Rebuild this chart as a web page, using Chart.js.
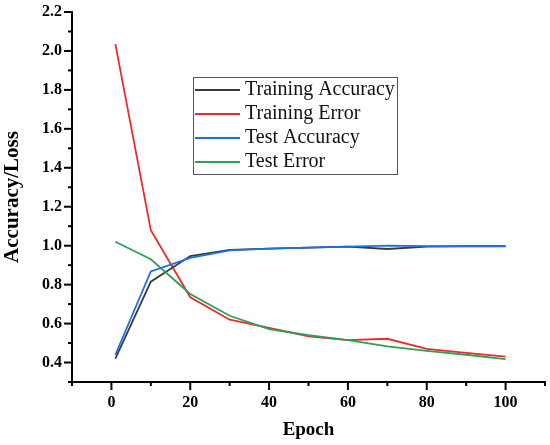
<!DOCTYPE html>
<html><head><meta charset="utf-8">
<script src="https://cdn.jsdelivr.net/npm/chart.js@4/dist/chart.umd.min.js"></script>
<style>html,body{margin:0;padding:0;background:#fff}</style>
</head><body>
<canvas id="c" width="550" height="445"></canvas>
<script>
const epochs = [1, 10, 20, 30, 40, 50, 60, 70, 80, 90, 100];
const trainAcc = [0.42, 0.815, 0.947, 0.978, 0.985, 0.99, 0.995, 0.983, 0.995, 0.997, 0.997];
const trainErr = [2.035, 1.08, 0.735, 0.62, 0.578, 0.535, 0.515, 0.522, 0.47, 0.45, 0.43];
const testAcc = [0.44, 0.868, 0.937, 0.976, 0.985, 0.99, 0.995, 1.0, 0.998, 0.998, 0.998];
const testErr = [1.02, 0.93, 0.752, 0.64, 0.572, 0.54, 0.515, 0.483, 0.46, 0.44, 0.417];
const seriesLabels = ['Training Accuracy', 'Training Error', 'Test Accuracy', 'Test Error'];
const xTickLabels = ['0', '20', '40', '60', '80', '100'];
const yTickLabels = ['0.4', '0.6', '0.8', '1.0', '1.2', '1.4', '1.6', '1.8', '2.0', '2.2'];

const colors = ['#3a3a3a', '#ee2b2b', '#1f6fe0', '#2e9e5a'];
const SERIF = '"Liberation Serif", "Times New Roman", serif';

function pts(arr) { return epochs.map((e, i) => ({x: e, y: arr[i]})); }

const tickMarks = {
  id: 'tickMarks',
  afterDraw(chart) {
    const ctx = chart.ctx;
    const xs = chart.scales.x, ys = chart.scales.y;
    ctx.save();
    ctx.strokeStyle = '#000';
    ctx.lineWidth = 2;
    xs.ticks.forEach(t => {
      const px = xs.getPixelForValue(t.value);
      const len = t.label ? 8 : 4;
      ctx.beginPath(); ctx.moveTo(px, xs.top); ctx.lineTo(px, xs.top + len); ctx.stroke();
    });
    ys.ticks.forEach(t => {
      const py = ys.getPixelForValue(t.value);
      const len = t.label ? 8 : 4;
      ctx.beginPath(); ctx.moveTo(ys.right, py); ctx.lineTo(ys.right - len, py); ctx.stroke();
    });
    ctx.restore();
  }
};

const boxLegend = {
  id: 'boxLegend',
  afterDraw(chart) {
    const ctx = chart.ctx;
    const ca = chart.chartArea;
    const left = ca.left + 121, top = ca.top + 65, w = 204, h = 97;
    ctx.save();
    ctx.fillStyle = '#fff';
    ctx.fillRect(left, top, w, h);
    ctx.strokeStyle = '#555';
    ctx.lineWidth = 1;
    ctx.strokeRect(left + 0.5, top + 0.5, w, h);
    ctx.font = '20px ' + SERIF;
    ctx.textBaseline = 'middle';
    ctx.fillStyle = '#111';
    seriesLabels.forEach((lab, i) => {
      const ds = chart.data.datasets.find(d => d.label === lab);
      const y = top + 13 + i * 24;
      ctx.strokeStyle = ds.borderColor;
      ctx.lineWidth = 2;
      ctx.beginPath(); ctx.moveTo(left + 2, y); ctx.lineTo(left + 47, y); ctx.stroke();
      ctx.fillText(lab, left + 52, y);
    });
    ctx.restore();
  }
};

new Chart(document.getElementById('c'), {
  type: 'line',
  data: {
    datasets: [
      {label: seriesLabels[0], data: pts(trainAcc), borderColor: colors[0], order: 2},
      {label: seriesLabels[1], data: pts(trainErr), borderColor: colors[1], order: 3},
      {label: seriesLabels[2], data: pts(testAcc), borderColor: colors[2], order: 0},
      {label: seriesLabels[3], data: pts(testErr), borderColor: colors[3], order: 1}
    ]
  },
  options: {
    responsive: false,
    animation: false,
    devicePixelRatio: 1,
    layout: {padding: {top: 12, right: 5, left: 0, bottom: 0}},
    elements: {
      line: {borderWidth: 1.8, tension: 0, fill: false},
      point: {radius: 0, hoverRadius: 0}
    },
    plugins: {legend: {display: false}, tooltip: {enabled: false}},
    scales: {
      x: {
        type: 'linear', min: -10, max: 110,
        afterFit: s => { s.height = 63; s.paddingLeft = 0; s.paddingRight = 0; },
        grid: {display: true, drawOnChartArea: false, drawTicks: false},
        border: {display: true, color: '#000', width: 2},
        ticks: {
          stepSize: 10, autoSkip: false, maxRotation: 0, padding: 11,
          color: '#000', font: {family: SERIF, size: 16, weight: 'bold'},
          callback: v => xTickLabels.includes(String(v)) ? String(v) : ''
        },
        title: {display: true, text: 'Epoch', color: '#000',
          font: {family: SERIF, size: 19, weight: 'bold'}, padding: {top: 0, bottom: 4}}
      },
      y: {
        type: 'linear', min: 0.3, max: 2.2,
        afterFit: s => { s.width = 72; s.paddingTop = 0; s.paddingBottom = 0; },
        grid: {display: true, drawOnChartArea: false, drawTicks: false},
        border: {display: true, color: '#000', width: 2},
        ticks: {
          stepSize: 0.1, autoSkip: false, padding: 10,
          color: '#000', font: {family: SERIF, size: 16, weight: 'bold'},
          callback: v => { const s = (Math.round(v * 10) / 10).toFixed(1); return yTickLabels.includes(s) ? s : ''; }
        },
        title: {display: true, text: 'Accuracy/Loss', color: '#000',
          font: {family: SERIF, size: 21, weight: 'bold'}, padding: {top: 0, bottom: 0}}
      }
    }
  },
  plugins: [tickMarks, boxLegend]
});
</script>
</body></html>
